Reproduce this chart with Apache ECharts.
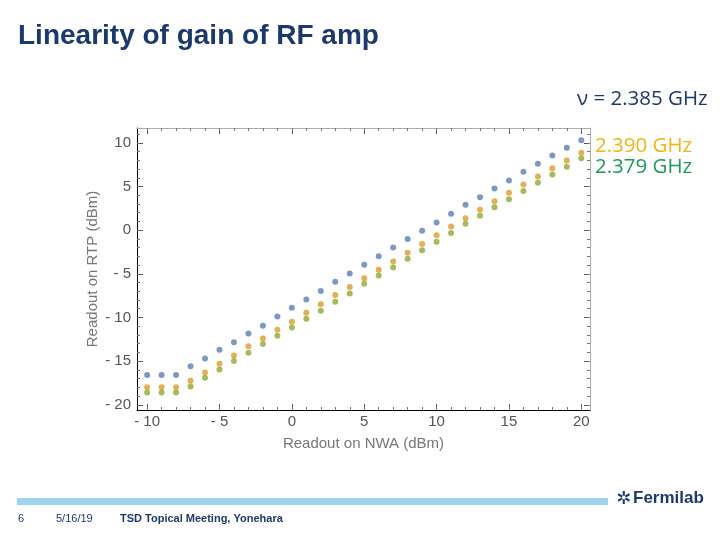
<!DOCTYPE html>
<html>
<head>
<meta charset="utf-8">
<script src="https://cdn.jsdelivr.net/npm/echarts@6/dist/echarts.min.js"></script>
<style>
  html, body { margin: 0; padding: 0; background: #fff; }
  #chart { width: 720px; height: 540px; }
</style>
</head>
<body>
<div id="chart"></div>
<script>
// NWA readout (dBm)
var nwa = [-10, -9, -8, -7, -6, -5, -4, -3, -2, -1, 0, 1, 2, 3, 4, 5, 6, 7, 8, 9, 10,
  11, 12, 13, 14, 15, 16, 17, 18, 19, 20]
// RTP readout (dBm) per frequency
var rtp2385 = [-16.6, -16.6, -16.6, -15.6, -14.7, -13.7, -12.85, -11.85, -10.95, -9.9, -8.9,
  -7.95, -6.98, -5.92, -4.97, -3.96, -3.0, -2.0, -1.02, -0.08, 0.88,
  1.87, 2.9, 3.78, 4.77, 5.69, 6.68, 7.6, 8.56, 9.43, 10.3]
var rtp2390 = [-18.0, -18.0, -18.0, -17.25, -16.3, -15.3, -14.35, -13.3, -12.4, -11.4, -10.5,
  -9.46, -8.5, -7.44, -6.5, -5.52, -4.54, -3.58, -2.6, -1.6, -0.57,
  0.42, 1.37, 2.33, 3.32, 4.28, 5.23, 6.15, 7.1, 7.98, 8.86]
var rtp2379 = [-18.6, -18.6, -18.6, -17.9, -16.9, -15.95, -15.0, -14.05, -13.05, -12.1, -11.15,
  -10.15, -9.23, -8.2, -7.25, -6.15, -5.2, -4.27, -3.28, -2.3, -1.33,
  -0.34, 0.73, 1.65, 2.63, 3.55, 4.47, 5.42, 6.37, 7.26, 8.24]
var xTicks = [-10, -5, 0, 5, 10, 15, 20]
var yTicks = [-20, -15, -10, -5, 0, 5, 10]
var xMinor = [-10, -9, -8, -7, -6, -5, -4, -3, -2, -1, 0, 1, 2, 3, 4, 5, 6, 7, 8, 9, 10,
  11, 12, 13, 14, 15, 16, 17, 18, 19, 20]
var yMinor = [-20, -19, -18, -17, -16, -15, -14, -13, -12, -11, -10, -9, -8, -7, -6, -5,
  -4, -3, -2, -1, 0, 1, 2, 3, 4, 5, 6, 7, 8, 9, 10, 11]

function pairs (ys) {
  return nwa.map(function (x, i) { return [x, ys[i]] })
}
function fmt (v) {
  return v < 0 ? '- ' + Math.abs(v) : String(v)
}

var navy = '#1b3a6b'
var font = 'Liberation Sans'
var xr = { min: -10.7, max: 20.6 }
var yr = { min: -20.6, max: 11.7 }

function axis (kind, pos, major, minor, show) {
  var r = kind === 'x' ? xr : yr
  var base = {
    type: 'value', position: pos, min: r.min, max: r.max,
    splitLine: { show: false }
  }
  var list = [
    Object.assign({}, base, {
      axisLine: { show: true, onZero: false, lineStyle: { color: show ? '#000' : '#aaa', width: 1 } },
      axisTick: { show: true, inside: true, length: 6, customValues: major, lineStyle: { color: '#555' } },
      axisLabel: {
        show: show, customValues: major, formatter: fmt,
        color: '#555', fontSize: 15, fontFamily: font, margin: kind === 'x' ? 4 : 6
      },
      name: show ? (kind === 'x' ? 'Readout on NWA (dBm)' : 'Readout on RTP (dBm)') : '',
      nameLocation: 'middle',
      nameMoveOverlap: false,
      nameGap: kind === 'x' ? 26 : 37,
      nameTextStyle: { color: '#777', fontSize: 15, fontFamily: font }
    }),
    Object.assign({}, base, {
      axisLine: { show: false, onZero: false },
      axisTick: { show: true, inside: true, length: 3, customValues: minor, lineStyle: { color: '#777' } },
      axisLabel: { show: false }
    })
  ]
  return list
}

var chart = echarts.init(document.getElementById('chart'))
chart.setOption({
  animation: false,
  grid: { left: 137, right: 130, top: 128, bottom: 130 },
  xAxis: axis('x', 'bottom', xTicks, xMinor, true).concat(axis('x', 'top', xTicks, xMinor, false)),
  yAxis: axis('y', 'left', yTicks, yMinor, true).concat(axis('y', 'right', yTicks, yMinor, false)),
  series: [
    { name: '2.385 GHz', type: 'scatter', data: pairs(rtp2385), symbolSize: 6, itemStyle: { color: '#5b7fb4' } },
    { name: '2.390 GHz', type: 'scatter', data: pairs(rtp2390), symbolSize: 6, itemStyle: { color: '#dc9c2c' } },
    { name: '2.379 GHz', type: 'scatter', data: pairs(rtp2379), symbolSize: 6, itemStyle: { color: '#8dab36' } }
  ],
  graphic: [
    { type: 'text', left: 18, top: 22,
      style: { text: 'Linearity of gain of RF amp', fill: navy, font: 'bold 28px "Liberation Sans"' } },
    { type: 'text', left: 577, top: 89,
      style: { text: 'ν = 2.385 GHz', fill: navy, font: '20.5px "Open Sans"' } },
    { type: 'text', left: 595, top: 136,
      style: { text: '2.390 GHz', fill: '#f0b414', font: '20.5px "Open Sans"' } },
    { type: 'text', left: 595, top: 157,
      style: { text: '2.379 GHz', fill: '#1f9a55', font: '20.5px "Open Sans"' } },
    { type: 'rect', shape: { x: 17, y: 498, width: 591, height: 7 }, style: { fill: '#9fd4ea' } },
    { type: 'text', left: 616, top: 490,
      style: { text: '✲', fill: navy, font: 'bold 18px "DejaVu Sans"' } },
    { type: 'text', left: 633, top: 490,
      style: { text: 'Fermilab', fill: navy, font: 'bold 17px "Liberation Sans"' } },
    { type: 'text', left: 18, top: 513,
      style: { text: '6', fill: navy, font: '11px "Liberation Sans Narrow", "Liberation Sans"' } },
    { type: 'text', left: 56, top: 513,
      style: { text: '5/16/19', fill: navy, font: '11px "Liberation Sans Narrow", "Liberation Sans"' } },
    { type: 'text', left: 120, top: 513,
      style: { text: 'TSD Topical Meeting, Yonehara', fill: navy, font: 'bold 11px "Liberation Sans Narrow", "Liberation Sans"' } }
  ]
})
</script>
</body>
</html>
